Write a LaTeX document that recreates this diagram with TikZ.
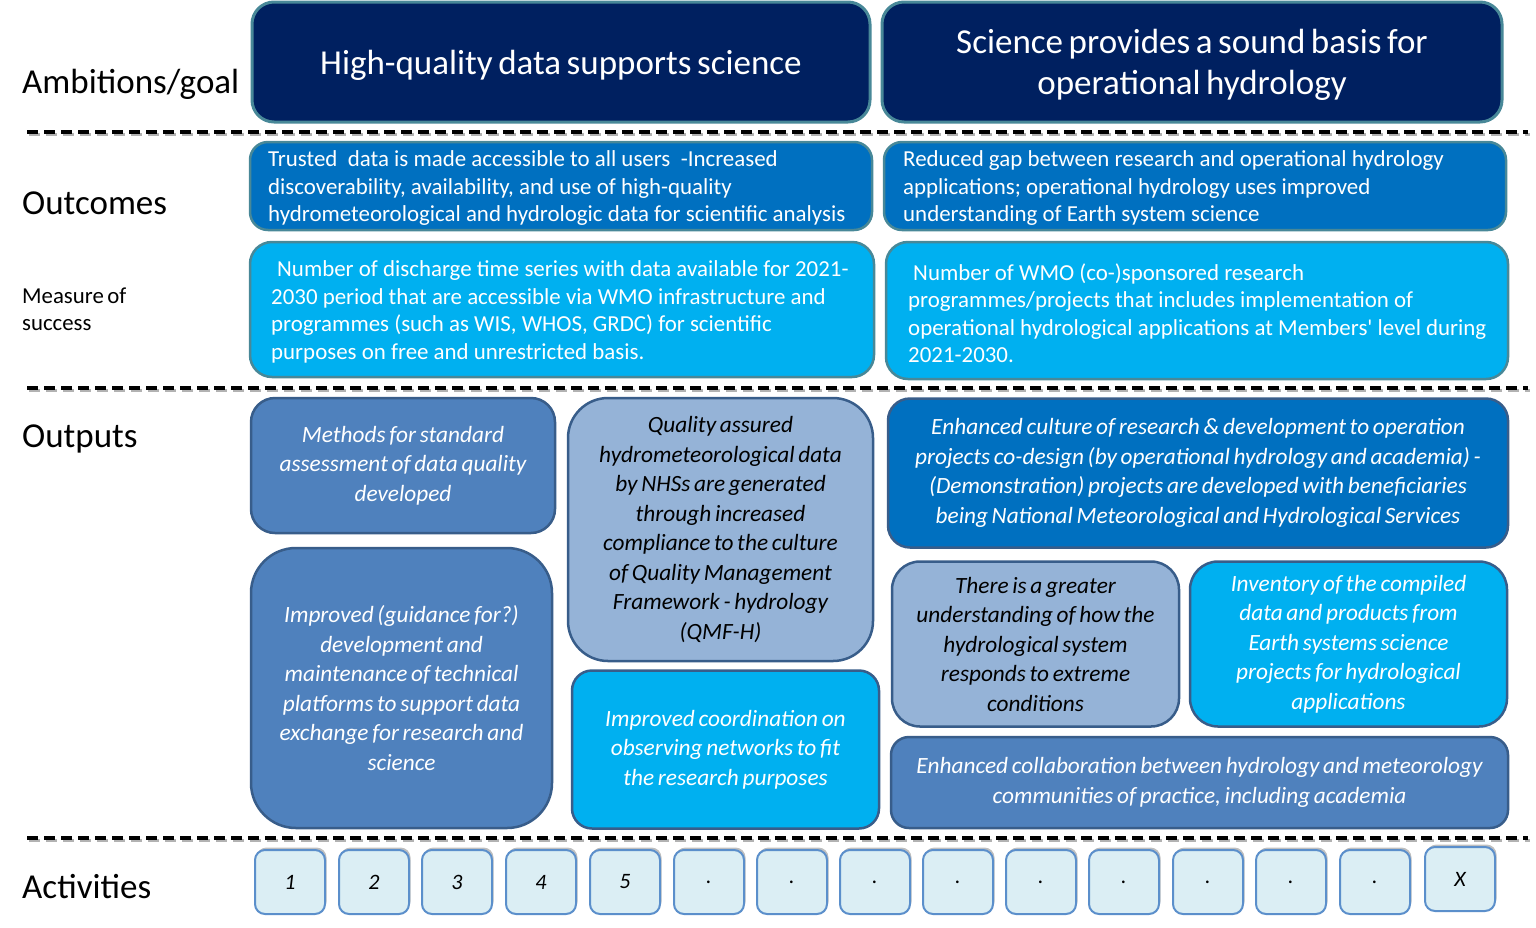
\documentclass[tikz,border=0pt]{standalone}
\usepackage{fontspec}
\setmainfont{Carlito}[WordSpace=1,ItalicFeatures={WordSpace=0.7}]
\newfontfamily\titlefont{Carlito}[WordSpace=0.7]
\newcommand{\sqt}{{\addfontfeature{Ligatures=TeXOff}'}}
\usetikzlibrary{shadows}
\definecolor{navy}{HTML}{002060}
\definecolor{outc}{HTML}{0070C0}
\definecolor{meas}{HTML}{00B0F0}
\definecolor{topbd}{RGB}{72,136,152}
\definecolor{midb}{HTML}{4F81BD}
\definecolor{midbd}{HTML}{385D8A}
\definecolor{steel}{HTML}{95B3D7}
\definecolor{actf}{HTML}{DBEEF4}
\definecolor{actbd}{HTML}{5B8FCB}
\begin{document}
\begin{tikzpicture}[x=1pt,y=-1pt,
  rowlab/.style={anchor=west,inner sep=0pt,text=black},
  sep/.style={line width=3.6pt,dash pattern=on 11pt off 6pt,black},
  goalbox/.style={draw=topbd,line width=3pt,fill=navy,rounded corners=22pt,inner sep=0pt},
  goaltext/.style={text=white,font=\titlefont\fontsize{35}{41}\selectfont,align=center,inner sep=0pt},
  outbox/.style={draw=topbd,line width=2.5pt,fill=outc,rounded corners=18pt,inner sep=0pt},
  measbox/.style={draw=topbd,line width=2.5pt,fill=meas,rounded corners=22pt,inner sep=0pt},
  lefttext/.style={anchor=west,text=white,font=\fontsize{22.9}{27.5}\selectfont,align=left,inner sep=0pt},
  opbox/.style={draw=midbd,line width=2.5pt,align=center,inner sep=0pt,
    font=\fontsize{23.3}{29.5}\selectfont\itshape},
  actbox/.style={draw=actbd,line width=2pt,fill=actf,rounded corners=10pt,
    minimum width=70pt,minimum height=64pt,inner sep=0pt,
    font=\fontsize{22}{24}\selectfont\itshape,
    drop shadow={shadow xshift=1.5pt,shadow yshift=2.5pt,opacity=0.25,fill=black}},
]
\useasboundingbox (0,0) rectangle (1536,927);
\fill[white] (0,0) rectangle (1536,927);

% row labels
\node[rowlab,font=\fontsize{35}{40}\selectfont] (lamb) at (22,84) {Ambitions/goal};
\node[rowlab,font=\fontsize{35}{40}\selectfont] (lout) at (22,203) {Outcomes};
\node[rowlab,font=\titlefont\fontsize{22.8}{27}\selectfont,align=left] (lmeas) at (22,309) {Measure of\\success};
\node[rowlab,font=\fontsize{35}{40}\selectfont] (loutp) at (22,439) {Outputs};
\node[rowlab,font=\fontsize{35}{40}\selectfont] (lact) at (22,887) {Activities};

% separators
\coordinate (s1a) at (27,132); \coordinate (s1b) at (1528,132);
\coordinate (s2a) at (27,388); \coordinate (s2b) at (1528,388);
\coordinate (s3a) at (27,838); \coordinate (s3b) at (1528,838);
\foreach \a/\b in {s1a/s1b,s2a/s2b,s3a/s3b}{
  \draw[sep,gray!60,line width=3pt] ([shift={(1.5,2.5)}]\a) -- ([shift={(1.5,2.5)}]\b);
  \draw[sep] (\a) -- (\b);
}

% goals
\node[goalbox,minimum width=618pt,minimum height=120pt] (g1) at (561,62) {};
\node[goaltext] (g1t) at (561,65) {High-quality data supports science};
\node[goalbox,minimum width=620pt,minimum height=120pt] (g2) at (1192,62) {};
\node[goaltext] (g2t) at (1192,65) {Science provides a sound basis for\\operational hydrology};

% outcomes
\node[outbox,minimum width=622pt,minimum height=88pt] (o1) at (561,186) {};
\node[lefttext] (o1t) at (268,188.5)
 {Trusted\ \ data is made accessible to all users\ \ -Increased\\discoverability, availability, and use of high-quality\\hydrometeorological and hydrologic data for scientific analysis};
\node[outbox,minimum width=622pt,minimum height=88pt] (o2) at (1195,186) {};
\node[lefttext] (o2t) at (903,188.5)
 {Reduced gap between research and operational hydrology\\applications; operational hydrology uses improved\\understanding of Earth system science};

% measures
\node[measbox,minimum width=624pt,minimum height=135pt] (m1) at (562,309.5) {};
\node[lefttext] (m1t) at (271,312)
 {\hspace*{6pt}Number of discharge time series with data available for 2021-\\2030 period that are accessible via WMO infrastructure and\\programmes (such as WIS, WHOS, GRDC) for scientific\\purposes on free and unrestricted basis.};
\node[measbox,minimum width=622pt,minimum height=137pt] (m2) at (1197,310.5) {};
\node[lefttext] (m2t) at (908,313)
 {\hspace*{5pt}Number of WMO (co-)sponsored research\\programmes/projects that includes implementation of\\operational hydrological applications at Members\sqt{} level during\\2021-2030.};

% outputs
\node[opbox,fill=midb,text=white,rounded corners=24pt,minimum width=304pt,minimum height=135pt] (p1) at (403,465.5)
 {Methods for standard\\assessment of data quality\\developed};
\node[opbox,fill=midb,text=white,rounded corners=45pt,minimum width=301pt,minimum height=280pt] (p2) at (401.5,688)
 {Improved (guidance for?)\\development and\\maintenance of technical\\platforms to support data\\exchange for research and\\science};
\node[opbox,fill=steel,text=black,rounded corners=40pt,minimum width=305pt,minimum height=263pt] (p3) at (720.5,529.5)
 {Quality assured\\hydrometeorological data\\by NHSs are generated\\through increased\\compliance to the culture\\of Quality Management\\Framework - hydrology\\(QMF-H)};
\node[opbox,fill=meas,text=white,rounded corners=20pt,minimum width=307pt,minimum height=158pt] (p4) at (725.5,749.5)
 {Improved coordination on\\observing networks to fit\\the research purposes};
\node[opbox,fill=outc,text=white,rounded corners=22pt,minimum width=620pt,minimum height=149pt] (p5) at (1198,473)
 {Enhanced culture of research \& development to operation\\projects co-design (by operational hydrology and academia) -\\(Demonstration) projects are developed with beneficiaries\\being National Meteorological and Hydrological Services};
\node[opbox,fill=steel,text=black,rounded corners=28pt,minimum width=287pt,minimum height=165pt] (p6) at (1035.5,644)
 {There is a greater\\understanding of how the\\hydrological system\\responds to extreme\\conditions};
\node[opbox,fill=meas,text=white,rounded corners=28pt,minimum width=317pt,minimum height=165pt] (p7) at (1348.5,644)
 {Inventory of the compiled\\data and products from\\Earth systems science\\projects for hydrological\\applications};
\node[opbox,fill=midb,text=white,rounded corners=18pt,minimum width=617pt,minimum height=91pt] (p8) at (1199.5,782.5)
 {Enhanced collaboration between hydrology and meteorology\\communities of practice, including academia};

% activities
\foreach \i/\x/\t in {1/255/1,2/339/2,3/422/3,4/506/4,5/590/5,6/674/.,7/757/.,8/840/.,9/923/.,10/1006/.,11/1089/.,12/1173/.,13/1256/.,14/1340/.}{
  \node[actbox] (a\i) at (\x+35,882) {\t};
}
\node[actbox] (a15) at (1460,879) {X};
\end{tikzpicture}
\end{document}
